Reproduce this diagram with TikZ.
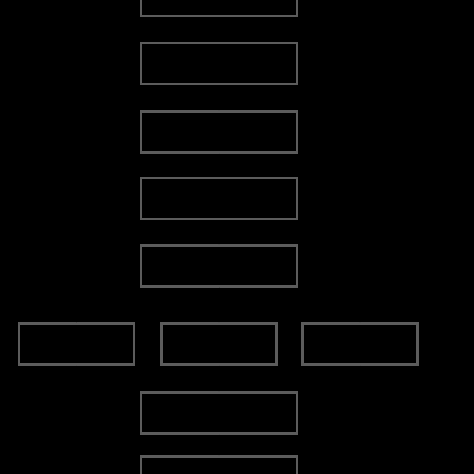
\documentclass[tikz,border=0pt]{standalone}
\usetikzlibrary{arrows.meta}
\definecolor{boxgray}{RGB}{92,92,92}
\tikzset{
  stepbox/.style={draw=boxgray, line width=2.2bp, minimum height=41bp, inner sep=0pt},
  widebox/.style={stepbox, minimum width=156bp},
  narrowbox/.style={stepbox, minimum width=115bp},
  link/.style={draw=black, line width=0.8bp, -{Stealth[length=4bp]}}
}
\begin{document}
\begin{tikzpicture}[x=1bp,y=-1bp]
\fill[black] (0,0) rectangle (474,474);
\useasboundingbox (0,0) rectangle (474,474);
\node[widebox] (b1) at (219,-4.5) {};
\node[widebox] (b2) at (219,63.5) {};
\node[widebox] (b3) at (219,132) {};
\node[widebox] (b4) at (219,198.5) {};
\node[widebox] (b5) at (219,266) {};
\node[narrowbox] (l) at (76.5,344) {};
\node[narrowbox] (m) at (219,344) {};
\node[narrowbox] (r) at (360,344) {};
\node[widebox] (b7) at (219,413) {};
\node[widebox] (b8) at (219,477) {};
\draw[link] (b1) -- (b2);
\draw[link] (b2) -- (b3);
\draw[link] (b3) -- (b4);
\draw[link] (b4) -- (b5);
\draw[link] (b5.south) -- ++(0,15) -| (l.north);
\draw[link] (b5.south) -- (m.north);
\draw[link] (b5.south) -- ++(0,15) -| (r.north);
\draw[link] (l.south) |- (b7.west);
\draw[link] (m) -- (b7);
\draw[link] (r.south) |- (b7.east);
\draw[link] (b7) -- (b8);
\end{tikzpicture}
\end{document}
